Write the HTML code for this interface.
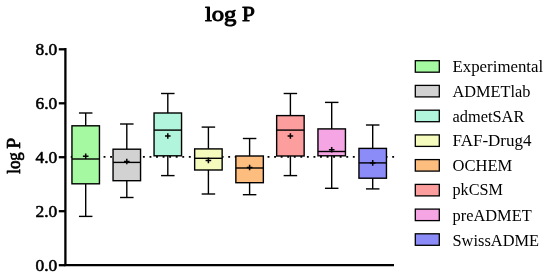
<!DOCTYPE html>
<html><head><meta charset="utf-8"><title>log P</title>
<style>
html,body{margin:0;padding:0;background:#fff;}
svg{display:block}
text{font-family:"Liberation Serif",serif;fill:#000}
.b{font-weight:bold}
.m3{font-weight:normal;stroke:#000;stroke-width:0.7px;stroke-linejoin:round}
.m2{font-weight:normal;stroke:#000;stroke-width:0.9px;stroke-linejoin:round}
.m{font-weight:normal;stroke:#000;stroke-width:0.55px;stroke-linejoin:round}
</style></head><body>
<svg width="550" height="277" viewBox="0 0 550 277">
<rect width="550" height="277" fill="#fff"/>
<text class="m2" y="21.0" font-size="20.2"><tspan x="204.9" textLength="31.6" lengthAdjust="spacingAndGlyphs">log</tspan><tspan> </tspan><tspan x="242.1" textLength="12.9" lengthAdjust="spacingAndGlyphs">P</tspan></text>
<text class="m3" transform="translate(20.3,173.8) rotate(-90)" font-size="17.8"><tspan x="0" textLength="21.6" lengthAdjust="spacingAndGlyphs">log</tspan><tspan> </tspan><tspan x="25.0" textLength="10.9" lengthAdjust="spacingAndGlyphs">P</tspan></text>
<line x1="64.2" y1="156.9" x2="394.5" y2="156.9" stroke="#000" stroke-width="1.7" stroke-dasharray="1.9,4.66"/>
<g stroke="#000" stroke-width="1.4" fill="none"><line x1="85.7" y1="113" x2="85.7" y2="125.8"/><line x1="85.7" y1="183.8" x2="85.7" y2="216.4"/><line x1="78.95" y1="113" x2="92.45" y2="113"/><line x1="78.95" y1="216.4" x2="92.45" y2="216.4"/><rect x="71.95" y="125.8" width="27.5" height="58.00" fill="#a5f9a0"/><line x1="71.95" y1="159" x2="99.45" y2="159"/><path d="M82.9 156.3H88.5M85.7 153.5V159.10000000000002" stroke-width="1.5"/></g>
<g stroke="#000" stroke-width="1.4" fill="none"><line x1="126.8" y1="124" x2="126.8" y2="149.2"/><line x1="126.8" y1="180.7" x2="126.8" y2="197.5"/><line x1="120.05" y1="124" x2="133.55" y2="124"/><line x1="120.05" y1="197.5" x2="133.55" y2="197.5"/><rect x="113.05" y="149.2" width="27.5" height="31.50" fill="#d2d2d2"/><line x1="113.05" y1="162.4" x2="140.55" y2="162.4"/><path d="M124.0 161.5H129.6M126.8 158.7V164.3" stroke-width="1.5"/></g>
<g stroke="#000" stroke-width="1.4" fill="none"><line x1="167.8" y1="93.5" x2="167.8" y2="113"/><line x1="167.8" y1="155.8" x2="167.8" y2="175.6"/><line x1="161.05" y1="93.5" x2="174.55" y2="93.5"/><line x1="161.05" y1="175.6" x2="174.55" y2="175.6"/><rect x="154.05" y="113" width="27.5" height="42.80" fill="#b0f5dc"/><line x1="154.05" y1="130.1" x2="181.55" y2="130.1"/><path d="M165.0 136H170.60000000000002M167.8 133.2V138.8" stroke-width="1.5"/></g>
<g stroke="#000" stroke-width="1.4" fill="none"><line x1="208.4" y1="127.1" x2="208.4" y2="148.9"/><line x1="208.4" y1="170" x2="208.4" y2="194"/><line x1="201.65" y1="127.1" x2="215.15" y2="127.1"/><line x1="201.65" y1="194" x2="215.15" y2="194"/><rect x="194.65" y="148.9" width="27.5" height="21.10" fill="#f5fbbd"/><line x1="194.65" y1="158.3" x2="222.15" y2="158.3"/><path d="M205.6 160.4H211.20000000000002M208.4 157.6V163.20000000000002" stroke-width="1.5"/></g>
<g stroke="#000" stroke-width="1.4" fill="none"><line x1="249.6" y1="138.5" x2="249.6" y2="156"/><line x1="249.6" y1="182.7" x2="249.6" y2="194.7"/><line x1="242.85" y1="138.5" x2="256.35" y2="138.5"/><line x1="242.85" y1="194.7" x2="256.35" y2="194.7"/><rect x="235.85" y="156" width="27.5" height="26.70" fill="#fcbd7f"/><line x1="235.85" y1="168" x2="263.35" y2="168"/><path d="M246.79999999999998 167.5H252.4M249.6 164.7V170.3" stroke-width="1.5"/></g>
<g stroke="#000" stroke-width="1.4" fill="none"><line x1="290.4" y1="93.5" x2="290.4" y2="115.6"/><line x1="290.4" y1="156" x2="290.4" y2="175.6"/><line x1="283.65" y1="93.5" x2="297.15" y2="93.5"/><line x1="283.65" y1="175.6" x2="297.15" y2="175.6"/><rect x="276.65" y="115.6" width="27.5" height="40.40" fill="#fc9e9e"/><line x1="276.65" y1="130.1" x2="304.15" y2="130.1"/><path d="M287.59999999999997 136H293.2M290.4 133.2V138.8" stroke-width="1.5"/></g>
<g stroke="#000" stroke-width="1.4" fill="none"><line x1="331.7" y1="102.4" x2="331.7" y2="128.9"/><line x1="331.7" y1="155.8" x2="331.7" y2="188.3"/><line x1="324.95" y1="102.4" x2="338.45" y2="102.4"/><line x1="324.95" y1="188.3" x2="338.45" y2="188.3"/><rect x="317.95" y="128.9" width="27.5" height="26.90" fill="#f5a4e4"/><line x1="317.95" y1="151.5" x2="345.45" y2="151.5"/><path d="M328.9 149.7H334.5M331.7 146.89999999999998V152.5" stroke-width="1.5"/></g>
<g stroke="#000" stroke-width="1.4" fill="none"><line x1="372.7" y1="125" x2="372.7" y2="148.4"/><line x1="372.7" y1="178.2" x2="372.7" y2="188.9"/><line x1="365.95" y1="125" x2="379.45" y2="125"/><line x1="365.95" y1="188.9" x2="379.45" y2="188.9"/><rect x="358.95" y="148.4" width="27.5" height="29.80" fill="#8c8cf8"/><line x1="358.95" y1="162.9" x2="386.45" y2="162.9"/><path d="M369.9 162.9H375.5M372.7 160.1V165.70000000000002" stroke-width="1.5"/></g>
<g stroke="#000" stroke-width="2.3" fill="none"><path d="M65.4 48.1V266.3M64.2 265.2H394"/><line x1="58.8" y1="265.2" x2="65.4" y2="265.2"/><line x1="58.8" y1="211.2" x2="65.4" y2="211.2"/><line x1="58.8" y1="157.2" x2="65.4" y2="157.2"/><line x1="58.8" y1="103.3" x2="65.4" y2="103.3"/><line x1="58.8" y1="49.3" x2="65.4" y2="49.3"/></g>
<text class="m" x="57.3" y="270.9" font-size="16.8" text-anchor="end" textLength="21.8" lengthAdjust="spacingAndGlyphs">0.0</text>
<text class="m" x="57.3" y="216.9" font-size="16.8" text-anchor="end" textLength="21.8" lengthAdjust="spacingAndGlyphs">2.0</text>
<text class="m" x="57.3" y="162.9" font-size="16.8" text-anchor="end" textLength="21.8" lengthAdjust="spacingAndGlyphs">4.0</text>
<text class="m" x="57.3" y="109.0" font-size="16.8" text-anchor="end" textLength="21.8" lengthAdjust="spacingAndGlyphs">6.0</text>
<text class="m" x="57.3" y="55.0" font-size="16.8" text-anchor="end" textLength="21.8" lengthAdjust="spacingAndGlyphs">8.0</text>
<rect x="415.3" y="60.7" width="24" height="11.5" fill="#a5f9a0" stroke="#000" stroke-width="1.3"/><text x="452.5" y="71.9" font-size="15.8" textLength="90.69999999999999" lengthAdjust="spacingAndGlyphs">Experimental</text>
<rect x="415.3" y="85.4" width="24" height="11.5" fill="#d2d2d2" stroke="#000" stroke-width="1.3"/><text x="452.5" y="97.0" font-size="15.8" textLength="78.0" lengthAdjust="spacingAndGlyphs">ADMETlab</text>
<rect x="415.3" y="110.2" width="24" height="11.5" fill="#b0f5dc" stroke="#000" stroke-width="1.3"/><text x="452.5" y="121.6" font-size="15.8" textLength="71.8" lengthAdjust="spacingAndGlyphs">admetSAR</text>
<rect x="415.3" y="134.9" width="24" height="11.5" fill="#f5fbbd" stroke="#000" stroke-width="1.3"/><text x="452.5" y="145.8" font-size="15.8" textLength="79.0" lengthAdjust="spacingAndGlyphs">FAF-Drug4</text>
<rect x="415.3" y="159.6" width="24" height="11.5" fill="#fcbd7f" stroke="#000" stroke-width="1.3"/><text x="452.5" y="171.0" font-size="15.8" textLength="59.800000000000004" lengthAdjust="spacingAndGlyphs">OCHEM</text>
<rect x="415.3" y="184.4" width="24" height="11.5" fill="#fc9e9e" stroke="#000" stroke-width="1.3"/><text x="452.5" y="195.2" font-size="15.8" textLength="50.4" lengthAdjust="spacingAndGlyphs">pkCSM</text>
<rect x="415.3" y="209.1" width="24" height="11.5" fill="#f5a4e4" stroke="#000" stroke-width="1.3"/><text x="452.5" y="221.0" font-size="15.8" textLength="79.19999999999999" lengthAdjust="spacingAndGlyphs">preADMET</text>
<rect x="415.3" y="233.8" width="24" height="11.5" fill="#8c8cf8" stroke="#000" stroke-width="1.3"/><text x="452.5" y="245.5" font-size="15.8" textLength="86.6" lengthAdjust="spacingAndGlyphs">SwissADME</text>
</svg></body></html>
